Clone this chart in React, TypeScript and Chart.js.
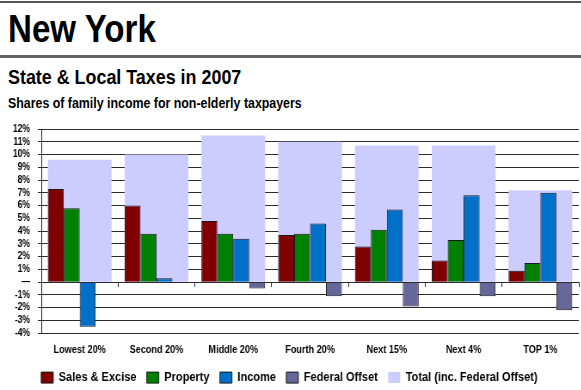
import React, { useEffect, useRef } from "react";
import { Chart, registerables } from "chart.js";

Chart.register(...registerables);

const categories = ["Lowest 20%", "Second 20%", "Middle 20%", "Fourth 20%", "Next 15%", "Next 4%", "TOP 1%"];
const salesExcise = [7.3, 6.0, 4.8, 3.7, 2.8, 1.7, 0.9];
const property = [5.8, 3.8, 3.8, 3.8, 4.1, 3.3, 1.5];
const income = [-3.5, 0.3, 3.4, 4.6, 5.7, 6.8, 7.0];
const federalOffset = [0, -0.05, -0.5, -1.1, -1.9, -1.1, -2.2];
const total = [9.6, 10.0, 11.5, 11.0, 10.7, 10.7, 7.2];
const seriesNames = ["Sales & Excise", "Property", "Income", "Federal Offset", "Total (inc. Federal Offset)"];
const yMin = -4;
const yMax = 12;

const SX = 0.86;
const W = Math.round(581 / SX);
const H = 390;
const CANVAS_H = 394;
const FONT = "'Liberation Sans', Arial, Helvetica, sans-serif";

export default function App() {
  const ref = useRef<HTMLCanvasElement | null>(null);

  useEffect(() => {
    if (!ref.current) return;
    const grid = "#2a2a2a";
    const common = { categoryPercentage: 0.83, barPercentage: 1, borderWidth: 1, borderColor: "#1a1a1a" };
    const chart = new Chart(ref.current, {
      type: "bar",
      data: {
        labels: categories,
        datasets: [
          { label: seriesNames[0], data: salesExcise, backgroundColor: "#800000", ...common, order: 0 },
          { label: seriesNames[1], data: property, backgroundColor: "#008000", ...common, order: 0 },
          { label: seriesNames[2], data: income, backgroundColor: "#0070C8", ...common, order: 0 },
          { label: seriesNames[3], data: federalOffset, backgroundColor: "#666699", ...common, order: 0 },
          {
            label: seriesNames[4],
            data: total,
            backgroundColor: "#CCCCFF",
            borderWidth: 0,
            categoryPercentage: 0.83,
            barPercentage: 1,
            grouped: false,
            order: 1,
          } as any,
        ],
      },
      options: {
        responsive: false,
        animation: false,
        devicePixelRatio: 1,
        layout: { padding: { top: 129, left: 0, right: 3, bottom: 0 } },
        plugins: {
          legend: {
            position: "bottom",
            labels: {
              boxWidth: 14,
              boxHeight: 11,
              padding: 12,
              color: "#000",
              font: { family: FONT, size: 12.8, weight: "bold" },
            },
          },
          tooltip: { enabled: false },
        },
        scales: {
          x: {
            type: "category",
            offset: true,
            grid: { display: false, drawTicks: false },
            border: { display: false },
            ticks: {
              color: "#000",
              padding: 11,
              maxRotation: 0,
              autoSkip: false,
              font: { family: FONT, size: 10.6, weight: "bold" },
            },
            afterFit: (s: any) => {
              s.height = 26;
            },
          },
          xz: {
            type: "category",
            position: { y: 0 } as any,
            offset: true,
            grid: { display: true, drawOnChartArea: false, offset: true, tickLength: 4, color: grid },
            border: { display: true, color: grid },
            ticks: { display: false },
          },
          y: {
            min: yMin,
            max: yMax,
            grid: { color: grid, tickLength: 4, lineWidth: 1 },
            border: { display: true, color: grid },
            ticks: {
              stepSize: 1,
              autoSkip: false,
              color: "#000",
              padding: 9,
              font: { family: FONT, size: 10, weight: "bold" },
              callback: (v: any) => (Number(v) === 0 ? "—" : `${v}%`),
            },
            afterFit: (s: any) => {
              s.width = 48;
            },
          },
        },
      } as any,
    });
    return () => chart.destroy();
  }, []);

  const left = 8 / SX;
  return (
    <div
      style={{
        position: "absolute",
        left: 0,
        top: 0,
        width: W,
        height: H,
        overflow: "hidden",
        transform: `scaleX(${SX})`,
        transformOrigin: "0 0",
        background: "#fff",
        fontFamily: FONT,
        color: "#000",
      }}
    >
      <div style={{ position: "absolute", left: 0, top: 1, width: W, height: 2, background: "#555" }} />
      <div style={{ position: "absolute", left, top: 10, fontSize: 38.5, lineHeight: 1, fontWeight: "bold", whiteSpace: "nowrap" }}>
        New York
      </div>
      <div style={{ position: "absolute", left: 0, top: 55, width: W, height: 3, background: "#666" }} />
      <div style={{ position: "absolute", left, top: 67.3, fontSize: 20.8, lineHeight: 1, fontWeight: "bold", whiteSpace: "nowrap" }}>
        State &amp; Local Taxes in 2007
      </div>
      <div style={{ position: "absolute", left, top: 96.4, fontSize: 14.4, lineHeight: 1, fontWeight: "bold", whiteSpace: "nowrap" }}>
        Shares of family income for non-elderly taxpayers
      </div>
      <canvas ref={ref} width={W} height={CANVAS_H} style={{ position: "absolute", left: 0, top: 0 }} />
    </div>
  );
}
